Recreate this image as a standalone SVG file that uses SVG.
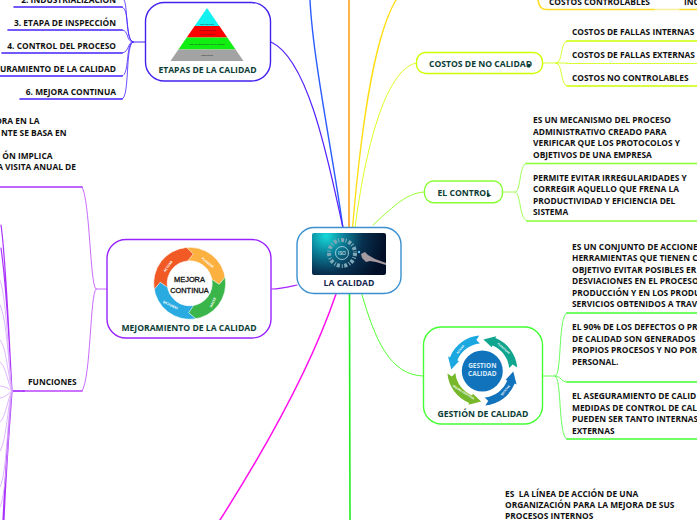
<svg xmlns="http://www.w3.org/2000/svg" width="697" height="520" viewBox="0 0 697 520">
<defs>
<radialGradient id="iso" gradientUnits="userSpaceOnUse" cx="326" cy="236" r="60"><stop offset="0" stop-color="#18dada"/><stop offset=".3" stop-color="#0b7f98"/><stop offset=".62" stop-color="#07304f"/><stop offset="1" stop-color="#030f26"/></radialGradient>
<path id="seg" d="M-3.100-35.900A36 36 0 0 1 36 0L28.900 6.100L22.500 0A22.500 22.500 0 0 0-1.960-22.400L3.600-29.300Z" stroke="#fff" stroke-width=".6"/>
<path id="arr" d="M34.900-3A35 35 0 0 0 13.100-32.400L13.900-34.300L1.100-31L9.400-23.200L10.100-25A27 27 0 0 1 26.900-2.400L30.400-5.900Z"/>
</defs>
<style>
text{font-family:"Open Sans","Noto Sans","DejaVu Sans",sans-serif;font-weight:700;font-size:8.4px;fill:#111;white-space:pre}
.t{fill:#0b3d36;font-size:8.6px}
.n{fill:#fff;stroke-width:1.4}
.c{fill:none;stroke-linecap:round}
.thin{stroke-width:.8}
.mid{stroke-width:1.2}
.u{stroke-width:1.6}
.w{fill:#fff;font-size:3.2px}
.p{font-size:2.4px;font-weight:400;fill:#222}
.m{font-family:"Liberation Sans",sans-serif;font-size:7.400px;font-weight:400;fill:#111;stroke:#111;stroke-width:.3}
.g{fill:#d7eaf6;font-size:6.5px}
</style>
<g id="connectors">
<path class="c" d="M343 228C332 150 313 60 310 0" stroke="#2a5cff" stroke-width="1.4"/>
<path class="c" d="M343 228C330 170 310 60 271 42" stroke="#5522ff" stroke-width="1.2"/>
<path class="c" d="M349 228V0" stroke="#ff9d0a" stroke-width="1.5"/>
<path class="c" d="M352.500 228C360 140 372 40 396 0" stroke="#ffdd0f" stroke-width="1.3"/>
<path class="c" d="M355 228C365 150 385 70 416 63" stroke="#ddff22" stroke-width="1"/>
<path class="c" d="M373 225C390 210 405 193 424 192" stroke="#99ff33" stroke-width="1"/>
<path class="c" d="M361.500 293C375 340 390 375 423 376" stroke="#55ff33" stroke-width="1"/>
<path class="c" d="M349.500 293L350 520" stroke="#22ee22" stroke-width="1.6"/>
<path class="c" d="M336 294C322 335 290 410 220 520" stroke="#ff11ee" stroke-width="1.5"/>
<path class="c" d="M297 285C288 287 280 289 272 289" stroke="#aa22ff" stroke-width="1.2"/>
<g stroke="#4422ff">
<path class="c mid" d="M145 42H133"/>
<path class="c thin" d="M133 42C125 40 128 4 124 0M133 42C125 40 130 9 122 7M133 42C125 41 130 31 122 30M133 42C127 42 130 52 122 53M133 42C125 44 130 75 122 76M133 42C125 44 130 98 122 99"/>
<path class="c u" d="M14 7H122M8 30H122M2 53H122M0 76H122M20 99H122"/>
</g>
<g stroke="#ccff00">
<path class="c thin" d="M543 63H556C563 63 560 42 567 41M556 63H567M556 63C563 63 560 85 567 86"/>
<path class="c u" d="M567 41H697M567 86H697"/>
<path class="c thin" d="M567 63.500H697"/>
</g>
<path class="c" d="M538 0C539 6 541 9.500 546 9.500H655" stroke="#ffdd22" stroke-width="1.6"/>
<path class="c" d="M655 9.500H680" stroke="#ffee99" stroke-width="1.4"/>
<path class="c" d="M680 9.500H697" stroke="#ffdd22" stroke-width="1.6"/>
<g stroke="#88ff33">
<path class="c thin" d="M503 192H515C521 192 519 165 526 163.500M515 192C521 192 519 219 527 221"/>
<path class="c u" d="M526 163.500H697M527 221H697"/>
</g>
<g stroke="#44ff33">
<path class="c thin" d="M543 376H555C562 376 558 314 567 313M555 376C561 376 561 382 567 382M555 376C562 376 558 438 567 439"/>
<path class="c u" d="M567 313H697M567 382H697M567 439H697"/>
</g>
<g stroke="#bb44ff">
<path class="c thin" d="M107 289H96C90 285 90 200 82 187M96 289C90 293 91 378 82 391"/>
<path class="c u" d="M0 187H82" stroke="#aa33ff"/>
<path class="c u" d="M24 391H82"/>
<path class="c u" stroke="#9911ff" d="M12 391H24"/>
<path class="c mid" stroke="#aa33ff" d="M12 391C10 420 6 470 4 520M12 391C8 430 5 480 3 520M12 391C9 340 6 260 1 225M12 391C9 340 7 290 1 248"/>
<path class="c thin" stroke="#d6a4ff" d="M12 391C8 360 7 300 0 280M12 391C8 360 7 320 0 305M12 391C8 375 6 345 0 340M12 391C8 385 6 365 0 362M12 391C8 388 4 386 0 386M12 391C8 394 4 398 0 398M12 391C8 396 6 418 0 422M12 391C8 400 7 440 0 451M12 391C8 405 7 475 0 487M12 391C9 410 7 495 0 507"/>
</g>
</g>
<g id="n-etapas-list">
<text x="116" y="2.500" text-anchor="end">2. INDUSTRIALIZACIÓN</text>
<text x="116" y="25.500" text-anchor="end">3. ETAPA DE INSPECCIÓN</text>
<text x="116" y="48.500" text-anchor="end">4. CONTROL DEL PROCESO</text>
<text x="116" y="71.500" text-anchor="end">URAMIENTO DE LA CALIDAD</text>
<text x="116" y="94.500" text-anchor="end">6. MEJORA CONTINUA</text>
</g>
<g id="n-etapas">
<rect class="n" x="145.500" y="2.500" width="125" height="78.500" rx="19" stroke="#4422ee"/>
<path d="M207 8L219.400 26H194.600Z" fill="#14f0f0"/>
<path d="M194.600 26H219.400L227.300 37.500H186.700Z" fill="#ff0000"/>
<path d="M186.700 37.500H227.300L235.600 49.500H178.400Z" fill="#11ee11"/>
<path d="M178.400 49.500H235.600L243.500 61H170.500Z" fill="#a3a3a3"/>
<text class="p" x="207" y="24.500" text-anchor="middle">Política/Plan</text>
<text class="p" x="207" y="31" text-anchor="middle">Aseguramiento</text>
<text class="p" x="207" y="34.500" text-anchor="middle">de la Calidad</text>
<text class="p" x="207" y="44.500" text-anchor="middle">Control Estadístico de la Calidad</text>
<text class="p" x="207" y="56" text-anchor="middle">Inspección</text>
<text x="207.500" y="73" text-anchor="middle" class="t">ETAPAS DE LA CALIDAD</text>
</g>
<g id="n-mejora-texto">
<text x="39.500" y="124" text-anchor="end">ORA EN LA</text>
<text x="66.500" y="136" text-anchor="end">NTE SE BASA EN</text>
<text x="52.500" y="159" text-anchor="end">ÓN IMPLICA</text>
<text x="76" y="170" text-anchor="end">A VISITA ANUAL DE</text>
</g>
<g id="n-funciones"><text x="28" y="385">FUNCIONES</text></g>
<g id="n-mejoramiento">
<rect class="n" x="107" y="239.500" width="164" height="98.500" rx="19" stroke="#9922ff"/>
<g transform="translate(189.700 283.300)">
<use href="#seg" fill="#fbb040" transform="rotate(-5)"/>
<use href="#seg" fill="#39b54a" transform="rotate(85)"/>
<use href="#seg" fill="#29abe2" transform="rotate(175)"/>
<use href="#seg" fill="#f15a24" transform="rotate(265)"/>
</g>
<text class="m" x="189.500" y="282" text-anchor="middle">MEJORA</text>
<text class="m" x="189.500" y="292.500" text-anchor="middle">CONTINUA</text>
<text class="w" transform="translate(207 263.500) rotate(40)" text-anchor="middle">PLANEAR</text>
<text class="w" transform="translate(214 303) rotate(-65)" text-anchor="middle">HACER</text>
<text class="w" transform="translate(171 304) rotate(-155)" text-anchor="middle">VERIFICAR</text>
<text class="w" transform="translate(169 267) rotate(-55)" text-anchor="middle">ACTUAR</text>
<text x="189" y="331" text-anchor="middle" class="t">MEJORAMIENTO DE LA CALIDAD</text>
</g>
<g id="n-centro">
<rect class="n" x="297" y="227.500" width="104" height="66" rx="17" stroke="#3a8fd0"/>
<rect x="312" y="233" width="74" height="42" rx="2" fill="url(#iso)"/>
<circle cx="342" cy="253" r="13" fill="none" stroke="#7fa8b8" stroke-width="4" stroke-dasharray="3 1.500 1 2"/>
<circle cx="342" cy="253" r="6.500" fill="none" stroke="#d4eef6" stroke-width=".7"/>
<text x="342" y="255" text-anchor="middle" style="fill:#e4f4fa;font-size:5px;font-weight:400">ISO</text>
<circle cx="359" cy="252" r="1.200" fill="#5fc8ff"/>
<path d="M361 254L365 252L368 255L375 259L386 263V265L376 262L370 261L366 262L362 258Z" fill="#a69aa0"/>
<text x="349" y="286" text-anchor="middle" style="fill:#12244f;font-size:8.600px">LA CALIDAD</text>
</g>
<g id="n-costos-controlables">
<text x="549" y="5">COSTOS CONTROLABLES</text>
<text x="684" y="5">INC</text>
</g>
<g id="n-costos-no">
<rect class="n" x="416.500" y="52.500" width="126" height="21" rx="9" stroke="#ccff00"/>
<text x="429" y="67" class="t">COSTOS DE NO CALIDAD</text>
<rect x="527.500" y="64" width="2.500" height="3.500" fill="#0b3d36"/>
<text x="572" y="35">COSTOS DE FALLAS INTERNAS</text>
<text x="572" y="58">COSTOS DE FALLAS EXTERNAS</text>
<text x="572" y="81">COSTOS NO CONTROLABLES</text>
</g>
<g id="n-control">
<rect class="n" x="424.500" y="181" width="78" height="21.700" rx="9" stroke="#88ff33"/>
<text x="437.500" y="196" class="t">EL CONTROL</text>
<rect x="487" y="193.300" width="2.500" height="3.500" fill="#0b3d36"/>
<text x="533" y="123">ES UN MECANISMO DEL PROCESO</text>
<text x="533" y="135">ADMINISTRATIVO CREADO PARA</text>
<text x="533" y="146">VERIFICAR QUE LOS PROTOCOLOS Y</text>
<text x="533" y="158">OBJETIVOS DE UNA EMPRESA</text>
<text x="533" y="181">PERMITE EVITAR IRREGULARIDADES Y</text>
<text x="533" y="192">CORREGIR AQUELLO QUE FRENA LA</text>
<text x="533" y="204">PRODUCTIVIDAD Y EFICIENCIA DEL</text>
<text x="533" y="215">SISTEMA</text>
</g>
<g id="n-gestion">
<rect class="n" x="423.500" y="327" width="119" height="97" rx="18" stroke="#44ff33"/>
<circle cx="482.300" cy="371" r="20.500" fill="#1273bd"/>
<g transform="translate(482.300 370.500)">
<use href="#arr" fill="#0fa58e"/>
<use href="#arr" fill="#1273bd" transform="rotate(90)"/>
<use href="#arr" fill="#76b82a" transform="rotate(180)"/>
<use href="#arr" fill="#1ba8e0" transform="rotate(270)"/>
</g>
<text class="w" style="font-size:2.600px" transform="translate(503 349) rotate(42)" text-anchor="middle">PLANIFICAR</text>
<text class="w" style="font-size:2.600px" transform="translate(506 391) rotate(-50)" text-anchor="middle">EJECUTAR</text>
<text class="w" style="font-size:2.600px" transform="translate(463 393) rotate(32)" text-anchor="middle">MEJORA CONTINUA</text>
<text class="w" style="font-size:2.600px" transform="translate(461 350) rotate(-52)" text-anchor="middle">ACTUAR</text>
<text x="482.300" y="368" text-anchor="middle" class="g">GESTION</text>
<text x="482.300" y="376" text-anchor="middle" class="g">CALIDAD</text>
<text x="483" y="417" text-anchor="middle" class="t">GESTIÓN DE CALIDAD</text>
<text x="572" y="250">ES UN CONJUNTO DE ACCIONE</text>
<text x="572" y="261">HERRAMIENTAS QUE TIENEN C</text>
<text x="572" y="273">OBJETIVO EVITAR POSIBLES ER</text>
<text x="572" y="284">DESVIACIONES EN EL PROCESO</text>
<text x="572" y="296">PRODUCCIÓN Y EN LOS PRODU</text>
<text x="572" y="307">SERVICIOS OBTENIDOS A TRAV</text>
<text x="572" y="330">EL 90% DE LOS DEFECTOS O PR</text>
<text x="572" y="342">DE CALIDAD SON GENERADOS</text>
<text x="572" y="353">PROPIOS PROCESOS Y NO POR</text>
<text x="572" y="365">PERSONAL.</text>
<text x="572" y="399">EL ASEGURAMIENTO DE CALID</text>
<text x="572" y="411">MEDIDAS DE CONTROL DE CAL</text>
<text x="572" y="422">PUEDEN SER TANTO INTERNAS</text>
<text x="572" y="434">EXTERNAS</text>
</g>
<g id="n-linea">
<text x="505" y="497">ES  LA LÍNEA DE ACCIÓN DE UNA</text>
<text x="505" y="508">ORGANIZACIÓN PARA LA MEJORA DE SUS</text>
<text x="505" y="519">PROCESOS INTERNOS</text>
</g>
</svg>
